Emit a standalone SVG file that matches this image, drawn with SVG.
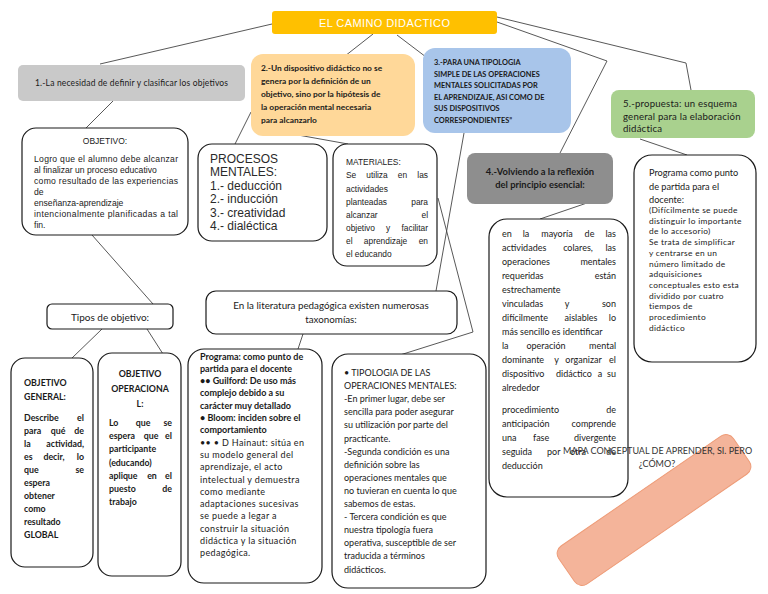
<svg xmlns="http://www.w3.org/2000/svg" width="768" height="594" viewBox="0 0 768 594">
<style>
.bx{fill:#fff;stroke:#1a1a1a;stroke-width:1.2}
.c{fill:none;stroke:#454545;stroke-width:0.9}
.l{font-family:Lato,"Liberation Sans",sans-serif;fill:#1a1a1a}
.a{font-family:"Liberation Sans",Arial,sans-serif;fill:#1a1a1a}
.b{font-weight:bold}
.m{text-anchor:middle}
.e{text-anchor:end}
</style>
<rect width="768" height="594" fill="#fff"/>
<g id="connectors">
<path class="c" d="M272,24 L100,64"/>
<path class="c" d="M373,34 L345,56"/>
<path class="c" d="M397,35 L426,57"/>
<path class="c" d="M497,22 L607,61 L560,153"/>
<path class="c" d="M497,17 L686,63 L691,90"/>
<path class="c" d="M113,101 L86,128"/>
<path class="c" d="M92,235 L153,304"/>
<path class="c" d="M102,329 L72,358"/>
<path class="c" d="M147,329 L163,354"/>
<path class="c" d="M251,112 L235,144"/>
<path class="c" d="M298,135 L348,144"/>
<path class="c" d="M464,133 L436,291"/>
<path class="c" d="M303,334 L298,349"/>
<path class="c" d="M438,198 L473,332 L400,355"/>
<path class="c" d="M587,203 L540,219"/>
<path class="c" d="M640,139 L687,155"/>
</g>
<g id="title">
<rect x="272" y="11" width="225" height="23" rx="3" fill="#FFC000"/>
<text class="a m" x="384.5" y="27" font-size="11" textLength="131" style="fill:#fff">EL CAMINO DIDACTICO</text>
</g>
<g id="n1">
<rect x="18" y="65" width="227" height="36" rx="5" fill="#C9C9C9"/>
<text class="l m" x="131.5" y="86" font-size="8.5" textLength="193">1.-La necesidad de definir y clasificar los objetivos</text>
</g>
<g id="n2">
<rect x="251" y="54" width="164" height="82" rx="12" fill="#FFD899"/>
<g class="l b" font-size="8.4">
<text x="261" y="71">2.-Un dispositivo didáctico no se</text>
<text x="261" y="84">genera por la definición de un</text>
<text x="261" y="97">objetivo, sino por la hipótesis de</text>
<text x="261" y="110">la operación mental necesaria</text>
<text x="261" y="123">para alcanzarlo</text>
</g>
</g>
<g id="n3">
<rect x="423" y="48" width="148" height="85" rx="12" fill="#A8C5EA"/>
<g class="l b" font-size="7.4">
<text x="434" y="65">3.-PARA UNA TIPOLOGIA</text>
<text x="434" y="76.5">SIMPLE DE LAS OPERACIONES</text>
<text x="434" y="88">MENTALES SOLICITADAS POR</text>
<text x="434" y="99.5">EL APRENDIZAJE, ASI COMO DE</text>
<text x="434" y="111">SUS DISPOSITIVOS</text>
<text x="434" y="122.5">CORRESPONDIENTES”</text>
</g>
</g>
<g id="n5">
<rect x="611" y="90" width="144" height="48" rx="8" fill="#A9D18E"/>
<g class="l" font-size="9.6" letter-spacing="0.2">
<text x="623" y="107">5.-propuesta: un esquema</text>
<text x="623" y="119.5">general para la elaboración</text>
<text x="623" y="132">didáctica</text>
</g>
</g>
<g id="n4">
<rect x="467" y="153" width="146" height="51" rx="8" fill="#8E8E8E"/>
<g class="l b m" font-size="9.4">
<text x="540" y="175">4.-Volviendo a la reflexión</text>
<text x="540" y="188">del principio esencial:</text>
</g>
</g>
<g id="objetivo">
<rect class="bx" x="22" y="128" width="166" height="107" rx="14"/>
<text class="a m" x="105" y="144" font-size="8.5">OBJETIVO:</text>
<g class="a" font-size="8.6">
<text x="34" y="162" textLength="144">Logro que el alumno debe alcanzar</text>
<text x="34" y="173">al finalizar un proceso educativo</text>
<text x="34" y="183.5" textLength="144">como resultado de las experiencias</text>
<text x="34" y="195">de</text>
<text x="34" y="206">enseñanza-aprendizaje</text>
<text x="34" y="217" textLength="144">intencionalmente planificadas a tal</text>
<text x="34" y="227.5">fin.</text>
</g>
</g>
<g id="procesos">
<rect class="bx" x="198" y="144" width="129" height="97" rx="14"/>
<g class="a" font-size="12" style="fill:#2a2a2a">
<text x="210" y="162.5">PROCESOS</text>
<text x="210" y="176">MENTALES:</text>
<text x="210" y="189.5">1.- deducción</text>
<text x="210" y="203">2.- inducción</text>
<text x="210" y="216.5">3.- creatividad</text>
<text x="210" y="230">4.- dialéctica</text>
</g>
</g>
<g id="materiales">
<rect class="bx" x="333" y="144" width="104" height="122" rx="14"/>
<g class="a" font-size="8.4">
<text x="346" y="165">MATERIALES:</text>
<text x="346" y="178">Se</text><text class="m" x="377" y="178">utiliza</text><text class="m" x="402.5" y="178">en</text><text class="e" x="428" y="178">las</text>
<text x="346" y="191.5">actividades</text>
<text x="346" y="204.5">planteadas</text><text class="e" x="428" y="204.5">para</text>
<text x="346" y="217.5">alcanzar</text><text class="e" x="428" y="217.5">el</text>
<text x="346" y="230.5">objetivo</text><text class="m" x="388" y="230.5">y</text><text class="e" x="428" y="230.5">facilitar</text>
<text x="346" y="243.5">el</text><text class="m" x="385.5" y="243.5">aprendizaje</text><text class="e" x="428" y="243.5">en</text>
<text x="346" y="256.5">el educando</text>
</g>
</g>
<g id="literatura">
<rect class="bx" x="206" y="291" width="251" height="43" rx="10"/>
<g class="l m" font-size="9.8">
<text x="331" y="309">En la literatura pedagógica existen numerosas</text>
<text x="331" y="323">taxonomías:</text>
</g>
</g>
<g id="tipos">
<rect class="bx" x="47" y="304" width="126" height="25" rx="5"/>
<text class="l m" x="110" y="321" font-size="10">Tipos de objetivo:</text>
</g>
<g id="general">
<rect class="bx" x="11" y="358" width="82" height="209" rx="14"/>
<g class="l b" font-size="8.8">
<text x="24" y="386">OBJETIVO</text>
<text x="24" y="400">GENERAL:</text>
<text x="24" y="421">Describe</text><text class="e" x="84" y="421">el</text>
<text x="24" y="434">para</text><text class="m" x="58" y="434">qué</text><text class="e" x="84" y="434">de</text>
<text x="24" y="447">la</text><text class="e" x="84" y="447">actividad,</text>
<text x="24" y="460">es</text><text class="m" x="54" y="460">decir,</text><text class="e" x="84" y="460">lo</text>
<text x="24" y="473">que</text><text class="e" x="84" y="473">se</text>
<text x="24" y="486">espera</text>
<text x="24" y="499">obtener</text>
<text x="24" y="512">como</text>
<text x="24" y="525">resultado</text>
<text x="24" y="538">GLOBAL</text>
</g>
</g>
<g id="operacional">
<rect class="bx" x="98" y="353" width="83" height="223" rx="14"/>
<g class="l b" font-size="8.8">
<text class="m" x="140" y="377">OBJETIVO</text>
<text class="m" x="140" y="392">OPERACIONA</text>
<text class="m" x="140" y="407">L:</text>
<text x="109" y="426">Lo</text><text class="m" x="143" y="426">que</text><text class="e" x="172" y="426">se</text>
<text x="109" y="439">espera</text><text class="m" x="151" y="439">que</text><text class="e" x="172" y="439">el</text>
<text x="109" y="452">participante</text>
<text x="109" y="466">(educando)</text>
<text x="109" y="479">aplique</text><text class="m" x="152" y="479">en</text><text class="e" x="172" y="479">el</text>
<text x="109" y="492">puesto</text><text class="e" x="172" y="492">de</text>
<text x="109" y="505">trabajo</text>
</g>
</g>
<g id="programa">
<rect class="bx" x="188" y="349" width="134" height="234" rx="16"/>
<g class="l" font-size="9">
<text class="b" x="200" y="359.5">Programa: como punto de</text>
<text class="b" x="200" y="371.8">partida para el docente</text>
<text class="b" x="200" y="384.1">•• Guilford: De uso más</text>
<text class="b" x="200" y="396.4">complejo debido a su</text>
<text class="b" x="200" y="408.7">carácter muy detallado</text>
<text class="b" x="200" y="421">• Bloom: inciden sobre el</text>
<text class="b" x="200" y="433.3">comportamiento</text>
<g letter-spacing="0.35">
<text x="200" y="445.6">•• • D Hainaut: sitúa en</text>
<text x="200" y="457.9">su modelo general del</text>
<text x="200" y="470.2">aprendizaje, el acto</text>
<text x="200" y="482.5">intelectual y demuestra</text>
<text x="200" y="494.8">como mediante</text>
<text x="200" y="507.1">adaptaciones sucesivas</text>
<text x="200" y="519.4">se puede a legar a</text>
<text x="200" y="531.7">construir la situación</text>
<text x="200" y="544">didáctica y la situación</text>
<text x="200" y="556.3">pedagógica.</text>
</g>
</g>
</g>
<g id="tipologia">
<rect class="bx" x="332" y="354" width="154" height="234" rx="16"/>
<g class="l" font-size="9">
<text x="344" y="376">• TIPOLOGIA DE LAS</text>
<text x="344" y="389.1">OPERACIONES MENTALES:</text>
<text x="344" y="402.2">-En primer lugar, debe ser</text>
<text x="344" y="415.3">sencilla para poder asegurar</text>
<text x="344" y="428.4">su utilización por parte del</text>
<text x="344" y="441.5">practicante.</text>
<text x="344" y="454.6">-Segunda condición es una</text>
<text x="344" y="467.7">definición sobre las</text>
<text x="344" y="480.8">operaciones mentales que</text>
<text x="344" y="493.9">no tuvieran en cuenta lo que</text>
<text x="344" y="507">sabemos de estas.</text>
<text x="344" y="520.1">- Tercera condición es que</text>
<text x="344" y="533.2">nuestra tipología fuera</text>
<text x="344" y="546.3">operativa, susceptible de ser</text>
<text x="344" y="559.4">traducida a términos</text>
<text x="344" y="572.5">didácticos.</text>
</g>
</g>
<g id="mayoria">
<rect class="bx" x="489" y="219" width="139" height="278" rx="18"/>
<g class="l" font-size="9">
<text x="502" y="237">en</text><text class="m" x="526" y="237">la</text><text class="m" x="557" y="237">mayoría</text><text class="m" x="589.5" y="237">de</text><text class="e" x="616" y="237">las</text>
<text x="502" y="251">actividades</text><text class="m" x="578" y="251">colares,</text><text class="e" x="616" y="251">las</text>
<text x="502" y="265">operaciones</text><text class="e" x="616" y="265">mentales</text>
<text x="502" y="279">requeridas</text><text class="e" x="616" y="279">están</text>
<text x="502" y="293">estrechamente</text>
<text x="502" y="307">vinculadas</text><text class="m" x="567" y="307">y</text><text class="e" x="616" y="307">son</text>
<text x="502" y="321">difícilmente</text><text class="m" x="581" y="321">aislables</text><text class="e" x="616" y="321">lo</text>
<text x="502" y="335">más sencillo es identificar</text>
<text x="502" y="349">la</text><text class="m" x="546" y="349">operación</text><text class="e" x="616" y="349">mental</text>
<text x="502" y="363">dominante</text><text class="m" x="556.5" y="363">y</text><text class="m" x="583.5" y="363">organizar</text><text class="e" x="616" y="363">el</text>
<text x="502" y="377">dispositivo</text><text class="m" x="574" y="377">didáctico</text><text class="m" x="600" y="377">a</text><text class="e" x="616" y="377">su</text>
<text x="502" y="391">alrededor</text>
<text x="502" y="413">procedimiento</text><text class="e" x="616" y="413">de</text>
<text x="502" y="427">anticipación</text><text class="e" x="616" y="427">comprende</text>
<text x="502" y="441">una</text><text x="533" y="441">fase</text><text class="e" x="616" y="441">divergente</text>
<text x="502" y="455">seguida</text><text x="547" y="455">por</text><text x="570" y="455">otra</text><text class="e" x="616" y="455">de</text>
<text x="502" y="469">deducción</text>
</g>
</g>
<g id="propuesta">
<rect class="bx" x="634" y="155" width="122" height="207" rx="18"/>
<g class="l" font-size="8.4" letter-spacing="0.3">
<text x="649" y="176" font-size="9.2" letter-spacing="0">Programa como punto</text>
<text x="649" y="189.5" font-size="9.2" letter-spacing="0">de partida para el</text>
<text x="649" y="203" font-size="9.2" letter-spacing="0">docente:</text>
<text x="649" y="213">(Difícilmente se puede</text>
<text x="649" y="223.7">distinguir lo importante</text>
<text x="649" y="234.4">de lo accesorio)</text>
<text x="649" y="245.1">Se trata de simplificar</text>
<text x="649" y="255.8">y centrarse en un</text>
<text x="649" y="266.5">número limitado de</text>
<text x="649" y="277.2">adquisiciones</text>
<text x="649" y="287.9">conceptuales esto esta</text>
<text x="649" y="298.6">dividido por cuatro</text>
<text x="649" y="309.3">tiempos de</text>
<text x="649" y="320">procedimiento</text>
<text x="649" y="330.7">didáctico</text>
</g>
</g>
<g id="mapa">
<rect x="-106" y="-23" width="212" height="46" rx="9" transform="translate(654,510) rotate(-34.5)" fill="#F4B49A" stroke="#EE9C78" stroke-width="1"/>
<g class="l" font-size="9" style="fill:#333">
<text x="563" y="454">MAPA CONCEPTUAL DE APRENDER, SI. PERO</text>
<text class="m" x="657" y="467">¿CÓMO?</text>
</g>
</g>
</svg>
